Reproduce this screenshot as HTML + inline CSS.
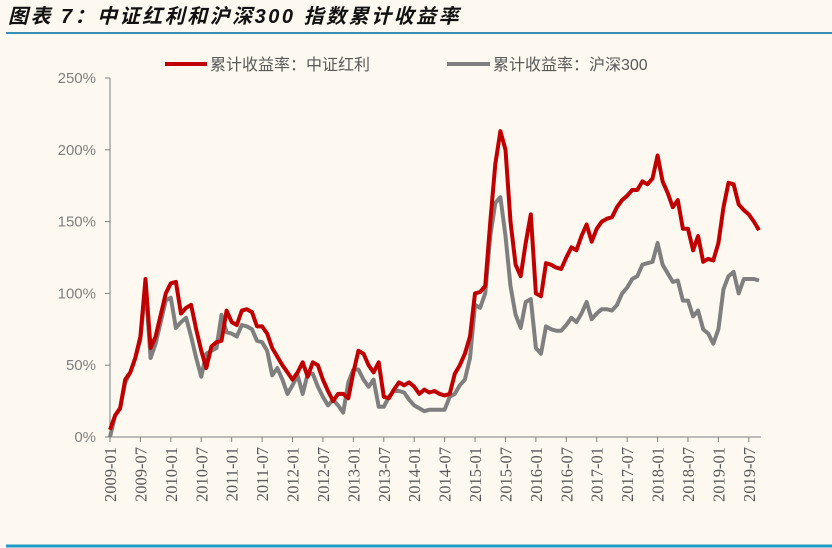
<!DOCTYPE html>
<html><head><meta charset="utf-8"><style>
body{margin:0;background:#fdf9f0;}
svg{display:block;}
</style></head><body>
<svg width="832" height="548" xmlns="http://www.w3.org/2000/svg">
<rect width="832" height="548" fill="#fdf9f0"/>
<text x="8" y="23" font-family="'Liberation Sans','Noto Sans CJK SC',sans-serif" font-size="20" font-weight="bold" font-style="italic" letter-spacing="2.5" fill="#111">图表 7：中证红利和沪深300 指数累计收益率</text>
<line x1="6" y1="33" x2="832" y2="33" stroke="#3a8fb7" stroke-width="2"/>
<line x1="6" y1="546" x2="832" y2="546" stroke="#1e9bc8" stroke-width="3"/>
<g>
<g>
<line x1="165" y1="64" x2="207" y2="64" stroke="#c00000" stroke-width="4"/>
<text x="210" y="70" font-family="'Liberation Sans','Noto Sans CJK SC',sans-serif" font-size="16" fill="#595959">累计收益率：中证红利</text></g>
<g>
<line x1="447" y1="64" x2="490" y2="64" stroke="#7f7f7f" stroke-width="4"/>
<text x="493" y="70" font-family="'Liberation Sans','Noto Sans CJK SC',sans-serif" font-size="16" fill="#595959">累计收益率：沪深300</text></g>
</g>
<g id="axes"></g>
<g id="series"></g>
</svg>
<script>
const yTicks=[0,50,100,150,200,250];
const startYear=2009;
const redValues=[
5,15,20,40,45,55,70,110,62,70,85,100,
107,108,86,90,92,75,60,48,63,66,67,88,
80,78,88,89,87,77,77,72,62,56,50,45,
40,45,52,42,52,50,40,32,25,30,30,27,
45,60,58,50,45,52,28,27,33,38,36,38,
35,30,33,31,32,30,29,30,44,50,58,70,
100,101,105,150,190,213,200,150,120,112,135,155,
100,98,121,120,118,117,125,132,130,140,148,136,
145,150,152,153,160,165,168,172,172,178,176,180,
196,178,170,160,165,145,145,130,140,122,124,123,
135,160,177,176,162,158,155,150,144];
const grayValues=[
0,15,20,38,45,55,68,105,55,65,80,95,
97,76,80,83,70,55,42,58,60,62,85,73,
72,70,78,77,75,67,66,60,43,48,40,30,
36,43,30,44,44,35,28,22,26,22,17,38,
47,47,40,35,40,21,21,28,32,32,31,26,
22,20,18,19,19,19,19,28,30,36,40,55,
92,90,100,140,163,167,140,105,85,76,94,96,
62,58,77,75,74,74,78,83,80,86,94,82,
86,89,89,88,92,100,104,110,112,120,121,122,
135,120,114,108,109,95,95,84,88,75,72,65,
75,103,112,115,100,110,110,110,109];
const NS='http://www.w3.org/2000/svg';
const x0=110,mw=5.07,y0=437,yTop=78;
const xs=i=>x0+i*mw;
const ys=v=>y0-(v/250)*(y0-yTop);
const axes=document.getElementById('axes');
function mk(t,a,p){const e=document.createElementNS(NS,t);for(const k in a)e.setAttribute(k,a[k]);p.appendChild(e);return e;}
const n=redValues.length;
const yAxis=mk('line',{x1:x0,y1:yTop,x2:x0,y2:y0,stroke:'#808080','stroke-width':1},axes);


const xAxis=mk('line',{x1:x0,y1:y0,x2:xs(n-1)+2,y2:y0,stroke:'#808080','stroke-width':1},axes);


yTicks.forEach(v=>{
 const y=ys(v);
 mk('line',{x1:x0-5,y1:y,x2:x0,y2:y,stroke:'#808080'},axes);
 const t=mk('text',{x:x0-14,y:y+5,'text-anchor':'end','font-family':"'Liberation Sans',sans-serif",'font-size':15,fill:'#7f7f7f'},axes);
 t.textContent=v+'%';
 
 
});
for(let i=0;i<n;i+=6){
 const x=xs(i);
 mk('line',{x1:x,y1:y0,x2:x,y2:y0+5,stroke:'#808080'},axes);
 const yr=startYear+Math.floor(i/12), mo=(i%12)+1;
 const lab=yr+'-'+(mo<10?'0':'')+mo;
 const t=mk('text',{x:0,y:0,'text-anchor':'end','font-family':"'Liberation Serif',serif",'font-size':16.5,fill:'#595959',transform:`translate(${x+6},${y0+10}) rotate(-90)`},axes);
 t.textContent=lab;
 
 
}
const ser=document.getElementById('series');
function line(vals,color,name){
 const d=vals.map((v,i)=>(i?'L':'M')+xs(i).toFixed(1)+','+ys(v).toFixed(1)).join(' ');
 const p=mk('path',{d:d,fill:'none',stroke:color,'stroke-width':4,'stroke-linejoin':'round'},ser);
 
 
}
line(grayValues,'#7f7f7f','csi300-line');
line(redValues,'#c00000','csi-dividend-line');
</script>
</body></html>
